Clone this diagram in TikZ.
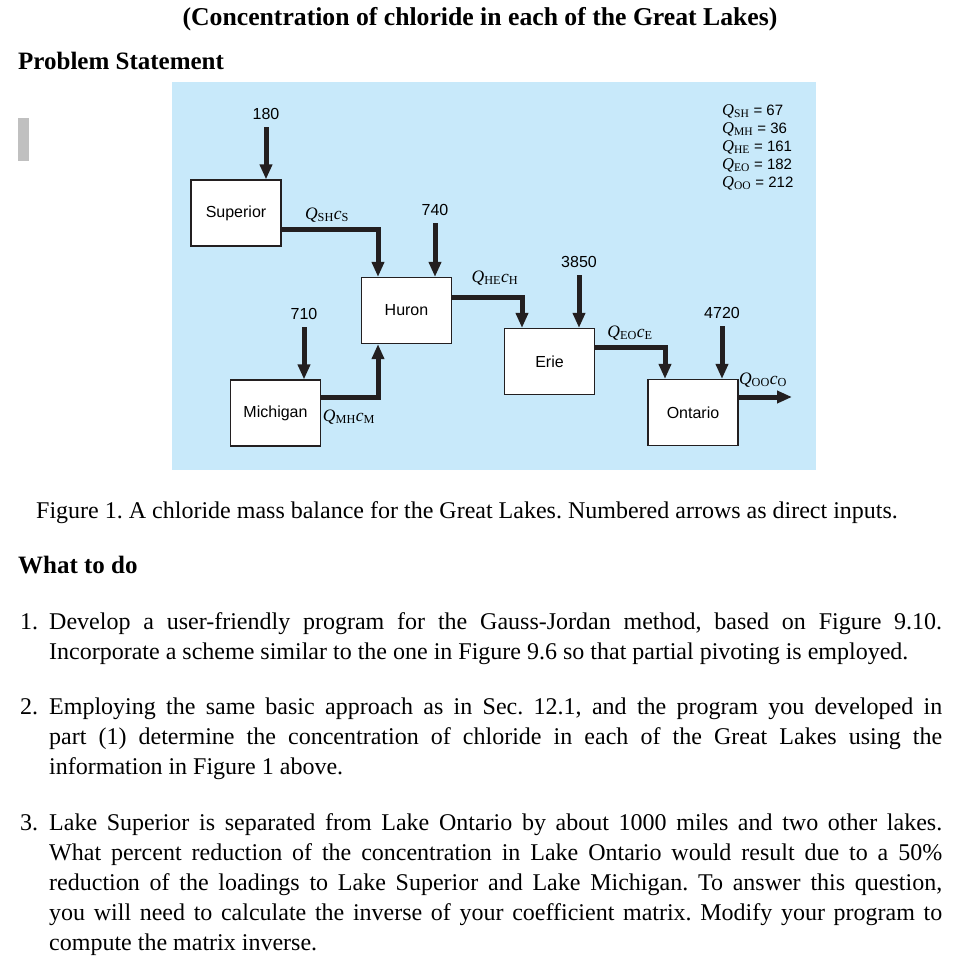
\documentclass[tikz,border=0pt]{standalone}
\usepackage{fontspec}
\setmainfont{Liberation Serif}
\newfontfamily\labfont{Liberation Sans}
\usetikzlibrary{arrows.meta,calc}
\frenchspacing
\definecolor{lakeblue}{RGB}{200,233,250}
\definecolor{ink}{RGB}{35,31,32}
\definecolor{barg}{RGB}{192,192,192}
\newcommand{\qc}[4]{{\itshape #1}\textsubscript{#2}{\itshape #3}\textsubscript{#4}}
\newcommand{\qrow}[2]{{\itshape Q}\textsubscript{#1}\ {\labfont\fontsize{15}{18}\selectfont = #2}}
\begin{document}
\begin{tikzpicture}[x=1pt,y=-1pt,
  lake/.style={draw=ink,line width=1.2pt,fill=white,minimum width=90pt,minimum height=66pt,inner sep=0pt,font=\labfont\fontsize{16}{19}\selectfont},
  num/.style={font=\labfont\fontsize{16}{19}\selectfont,inner sep=0pt},
  flowlab/.style={font=\fontsize{17.5}{20}\selectfont,inner sep=0pt},
  flow/.style={draw=ink,line width=5pt,line join=miter,-{Triangle[length=15pt,width=12pt]}},
  inflow/.style={flow,shorten <=7.5pt},
  head/.style={font=\bfseries\fontsize{25}{30}\selectfont,inner sep=0pt},
  body/.style={font=\fontsize{24}{30}\selectfont\frenchspacing,inner sep=0pt},
  para/.style={body,text width=893pt,align=justify,execute at begin node={\tolerance=10000\frenchspacing}}
]
\useasboundingbox (0,0) rectangle (963,970);
\fill[white] (0,0) rectangle (963,970);
% headings
\node[head,font=\bfseries\fontsize{25.7}{30}\selectfont,anchor=base] (title) at (480,25) {(Concentration of chloride in each of the Great Lakes)};
\node[head,anchor=base west] (ps) at (18,69) {Problem Statement};
\fill[barg] (18,118) rectangle (29,161);
% diagram panel
\fill[lakeblue] (172,82) rectangle (816,470);
\node[lake] (sup) at (236,213) {Superior};
\node[lake] (hur) at (406.5,310.5) {Huron};
\node[lake] (mich) at (275.5,413) {Michigan};
\node[lake] (erie) at (549.5,361.5) {Erie};
\node[lake] (ont) at (693,412.5) {Ontario};
\node[num] (n180) at (266,114) {180};
\node[num] (n740) at (435,210) {740};
\node[num] (n710) at (304,314) {710};
\node[num] (n3850) at (579,262) {3850};
\node[num] (n4720) at (722,313) {4720};
\draw[inflow] (n180.south) -- (n180.south |- sup.north);
\draw[inflow] (n740.south) -- (n740.south |- hur.north);
\draw[inflow] (n710.south) -- (n710.south |- mich.north);
\draw[inflow] (n3850.south) -- (n3850.south |- erie.north);
\draw[inflow] (n4720.south) -- (n4720.south |- ont.north);
\coordinate (out) at (792,397);
\draw[flow] ($(sup.east)+(0,16)$) -| ($(hur.north)+(-28.5,0)$);
\draw[flow] ($(mich.east)+(0,-16)$) -| ($(hur.south)+(-28.5,0)$);
\draw[flow] ($(hur.east)+(0,-13.5)$) -| ($(erie.north)+(-27.5,0)$);
\draw[flow] ($(erie.east)+(0,-14.5)$) -| ($(ont.north)+(-28,0)$);
\draw[flow] ($(ont.east)+(0,-15.5)$) -- (out);
\node[flowlab] (lsh) at (327,215) {\qc{Q}{SH}{c}{S}};
\node[flowlab] (lmh) at (349,417) {\qc{Q}{MH}{c}{M}};
\node[flowlab] (lhe) at (495,278) {\qc{Q}{HE}{c}{H}};
\node[flowlab] (leo) at (630,333) {\qc{Q}{EO}{c}{E}};
\node[flowlab] (loo) at (763,380) {\qc{Q}{OO}{c}{O}};
\node[font=\fontsize{16.5}{18}\selectfont,align=left,anchor=north west,inner sep=0pt] (qlist) at (722,104)
  {\qrow{SH}{67}\\ \qrow{MH}{36}\\ \qrow{HE}{161}\\ \qrow{EO}{182}\\ \qrow{OO}{212}};
% caption and tasks
\node[body,anchor=base west] (cap) at (36,518) {Figure 1. A chloride mass balance for the Great Lakes. Numbered arrows as direct inputs.};
\node[head,anchor=base west] (wtd) at (18,573) {What to do};
\node[body,anchor=base west] (k1) at (20,629) {1.};
\node[para,anchor=base west] (t1) at (49,629) {Develop a user-friendly program for the Gauss-Jordan method, based on Figure 9.10.\linebreak Incorporate a scheme similar to the one in Figure 9.6 so that partial pivoting is employed.};
\node[body,anchor=base west] (k2) at (20,714) {2.};
\node[para,anchor=base west] (t2) at (49,714) {Employing the same basic approach as in Sec. 12.1, and the program you developed in\linebreak part (1) determine the concentration of chloride in each of the Great Lakes using the\linebreak information in Figure 1 above.};
\node[body,anchor=base west] (k3) at (20,830) {3.};
\node[para,anchor=base west] (t3) at (49,830) {Lake Superior is separated from Lake Ontario by about 1000 miles and two other lakes.\linebreak What percent reduction of the concentration in Lake Ontario would result due to a 50\%\linebreak reduction of the loadings to Lake Superior and Lake Michigan. To answer this question,\linebreak you will need to calculate the inverse of your coefficient matrix. Modify your program to\linebreak compute the matrix inverse.};
\end{tikzpicture}
\end{document}
